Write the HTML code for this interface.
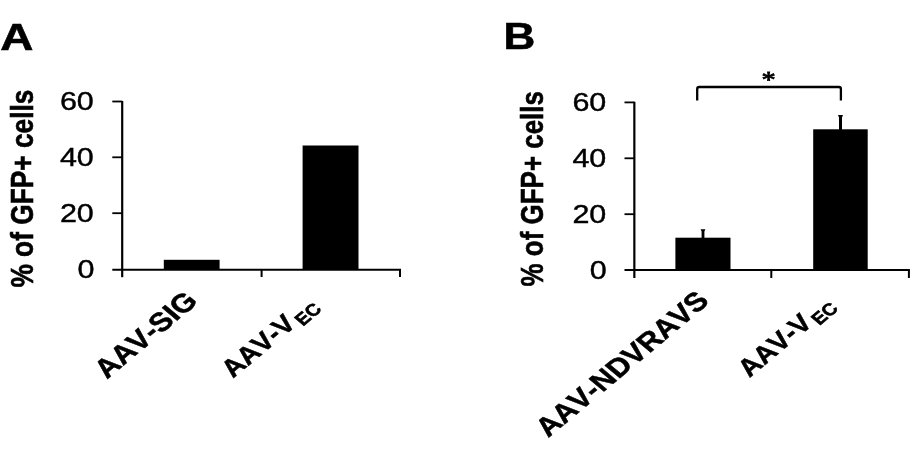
<!DOCTYPE html>
<html lang="en">
<head>
<meta charset="utf-8">
<title>Figure</title>
<style>
html,body{margin:0;padding:0;background:#fff;}
body{width:911px;height:463px;overflow:hidden;}
svg{display:block;font-family:"Liberation Sans", Arial, Helvetica, sans-serif;fill:#000;font-kerning:none;}
</style>
</head>
<body>
<svg width="911" height="463" viewBox="0 0 911 463">
<rect x="0" y="0" width="911" height="463" fill="#fff"/>
<text transform="translate(0.3,49.5) scale(1.22,1)" font-size="37.6" font-weight="bold" stroke="#000" stroke-width="0.6">A</text>
<text transform="translate(503.4,49.4) scale(1.17,1)" font-size="37.6" font-weight="bold" stroke="#000" stroke-width="0.6">B</text>
<text transform="translate(32.8,287.6) rotate(-90) scale(1,1.22)" font-size="26.3" font-weight="bold" stroke="#000" stroke-width="0.5">% of GFP+ cells</text>
<text transform="translate(542.8,286.4) rotate(-90) scale(1,1.22)" font-size="25.95" font-weight="bold" stroke="#000" stroke-width="0.5">% of GFP+ cells</text>
<text transform="translate(93.8,109.8) scale(1.2,1)" text-anchor="end" font-size="25.4" stroke="#000" stroke-width="0.4">60</text>
<text transform="translate(93.8,166.0) scale(1.2,1)" text-anchor="end" font-size="25.4" stroke="#000" stroke-width="0.4">40</text>
<text transform="translate(93.8,222.0) scale(1.2,1)" text-anchor="end" font-size="25.4" stroke="#000" stroke-width="0.4">20</text>
<text transform="translate(94.39999999999999,278.4) scale(1.2,1)" text-anchor="end" font-size="25.4" stroke="#000" stroke-width="0.4">0</text>
<text transform="translate(606.3,110.9) scale(1.2,1)" text-anchor="end" font-size="25.4" stroke="#000" stroke-width="0.4">60</text>
<text transform="translate(606.3,166.9) scale(1.2,1)" text-anchor="end" font-size="25.4" stroke="#000" stroke-width="0.4">40</text>
<text transform="translate(606.3,222.8) scale(1.2,1)" text-anchor="end" font-size="25.4" stroke="#000" stroke-width="0.4">20</text>
<text transform="translate(606.8,278.9) scale(1.2,1)" text-anchor="end" font-size="25.4" stroke="#000" stroke-width="0.4">0</text>
<line x1="122.2" y1="101" x2="122.2" y2="277.2" stroke="#000" stroke-width="2.2"/>
<line x1="112.3" y1="269.8" x2="401" y2="269.8" stroke="#000" stroke-width="2"/>
<line x1="112.3" y1="101.5" x2="122.2" y2="101.5" stroke="#000" stroke-width="1.8"/>
<line x1="112.3" y1="157.3" x2="122.2" y2="157.3" stroke="#000" stroke-width="1.8"/>
<line x1="112.3" y1="213.2" x2="122.2" y2="213.2" stroke="#000" stroke-width="1.8"/>
<line x1="261.6" y1="269.8" x2="261.6" y2="277" stroke="#000" stroke-width="2"/>
<line x1="400" y1="269.8" x2="400" y2="277" stroke="#000" stroke-width="2"/>
<rect x="163.8" y="259.8" width="55.8" height="10.0" fill="#000"/>
<rect x="302.6" y="145.5" width="55.9" height="124.3" fill="#000"/>
<line x1="634.35" y1="101.8" x2="634.35" y2="278" stroke="#000" stroke-width="2.2"/>
<line x1="624.5" y1="270.05" x2="909.9" y2="270.05" stroke="#000" stroke-width="2"/>
<line x1="624.5" y1="102.4" x2="634.35" y2="102.4" stroke="#000" stroke-width="1.8"/>
<line x1="624.5" y1="158.3" x2="634.35" y2="158.3" stroke="#000" stroke-width="1.8"/>
<line x1="624.5" y1="214.2" x2="634.35" y2="214.2" stroke="#000" stroke-width="1.8"/>
<line x1="771.3" y1="270.05" x2="771.3" y2="278" stroke="#000" stroke-width="2"/>
<line x1="908.9" y1="270.05" x2="908.9" y2="278" stroke="#000" stroke-width="2"/>
<rect x="675.4" y="237.7" width="55.1" height="32.35" fill="#000"/>
<rect x="813.2" y="129.3" width="54.5" height="140.75" fill="#000"/>
<path d="M700.6,229.2 H705.4 L704.4,231.6 V238.5 H701.6 V231.6 Z" fill="#000"/>
<path d="M838.0,115.1 H843.0 L842.0,117.5 V130 H839.0 V117.5 Z" fill="#000"/>
<path d="M697.2,100.6 V89 Q697.2,87 699.2,87 H838.9 Q840.9,87 840.9,89 V100.6" fill="none" stroke="#000" stroke-width="2.3"/>
<text transform="translate(768.7,86.5) scale(1.18,1)" text-anchor="middle" font-size="24" font-family="&quot;Liberation Serif&quot;, &quot;Times New Roman&quot;, serif" stroke="#000" stroke-width="0.8">*</text>
<text transform="translate(107,379.4) scale(1.195,1) rotate(-45)" font-size="26.2" font-weight="bold" stroke="#000" stroke-width="0.5">AAV-SIG</text>
<text transform="translate(233,378.6) scale(1.195,1) rotate(-45)" font-size="24.4" font-weight="bold" stroke="#000" stroke-width="0.5">AAV-V<tspan font-size="16.8" dy="4.6" dx="2.4" stroke-width="0.6">EC</tspan></text>
<text transform="translate(548.3,438.1) scale(1.195,1) rotate(-45)" font-size="26.2" font-weight="bold" stroke="#000" stroke-width="0.5">AAV-NDVRAVS</text>
<text transform="translate(749.5,377.9) scale(1.195,1) rotate(-45)" font-size="24.4" font-weight="bold" stroke="#000" stroke-width="0.5">AAV-V<tspan font-size="16.8" dy="4.6" dx="2.4" stroke-width="0.6">EC</tspan></text>
</svg>
</body>
</html>
